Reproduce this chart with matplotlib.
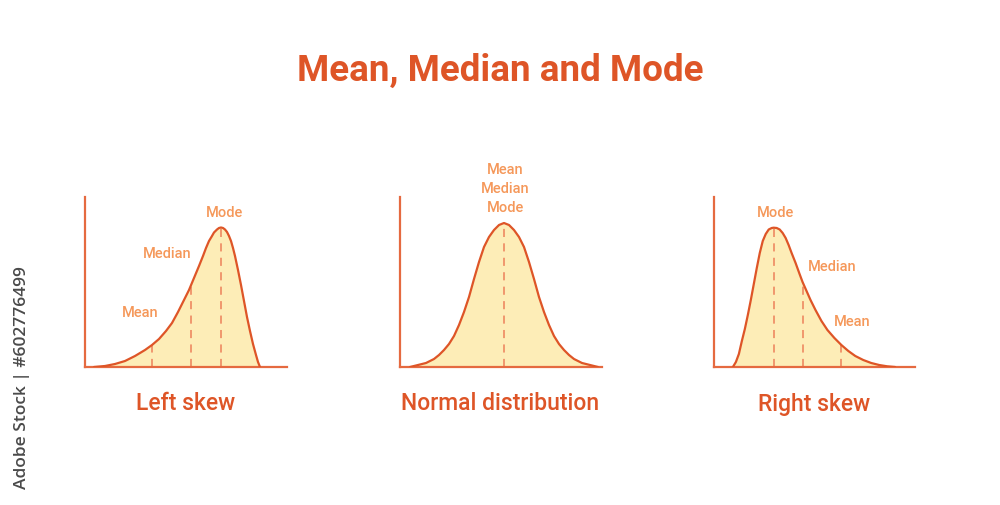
import matplotlib
matplotlib.use("Agg")
import matplotlib.pyplot as plt

# curve outlines (x along axis, height above axis)
left_x = [9, 20, 30, 40, 50, 60, 67, 74, 81, 87, 93, 99, 104, 109, 114, 118, 121, 124,
          127, 129, 132, 134, 136, 138, 140, 142, 144, 146, 148, 150, 153, 156, 159,
          162, 165, 168, 171, 173, 175]
left_h = [0, 1, 3, 6, 11, 17, 22, 28, 36, 44, 55, 67, 77, 89, 101, 111, 119, 126,
          131, 134.5, 137.5, 139, 139.5, 139, 137.5, 135, 131, 126, 119, 111, 97, 82, 66,
          50, 36, 23, 12, 5, 0]
left_marks = {"Mean": (67, 22), "Median": (106, 81), "Mode": (136, 139.5)}

normal_x = [10, 18, 26, 34, 39, 44, 49, 54, 59, 64, 69, 74, 79, 84, 89, 94, 99, 104,
            109, 114, 119, 124, 129, 134, 139, 144, 149, 154, 159, 164, 169, 174, 182, 190, 198]
normal_h = [0, 2, 4, 8, 12, 17, 23, 31, 42, 55, 70, 88, 105, 120, 130, 137, 142, 144,
            142, 137, 130, 120, 105, 88, 70, 55, 42, 31, 23, 17, 12, 8, 4, 2, 0]
normal_marks = {"Mode": (104, 144)}

right_x = [19, 22, 25, 28, 31, 34, 37, 40, 43, 46, 49, 52, 55, 58, 60, 63, 66, 69, 72,
           75, 78, 82, 86, 89, 93, 97, 102, 108, 114, 121, 128, 135, 142, 150, 158, 166,
           174, 182]
right_h = [0, 5, 13, 26, 38, 52, 67, 83, 99, 114, 126, 133, 137.5, 139, 139.3, 139, 137.5,
           134, 129, 122, 114, 104, 93, 85, 76, 67, 57, 46, 37, 29, 22, 16, 11, 7, 4, 2,
           0.7, 0]
right_marks = {"Mode": (60, 139.3), "Median": (89, 85), "Mean": (128, 22)}

TITLE = "Mean, Median and Mode"
SUBTITLES = ["Left skew", "Normal distribution", "Right skew"]

RED = "#DE5527"
AXIS = "#E56A40"
FILL = "#FDEDB7"
DASH = "#EF9068"
LABEL = "#F5985A"

plt.rcParams["font.family"] = ["Roboto", "DejaVu Sans"]

W, H = 1000, 505
fig = plt.figure(figsize=(W / 100, H / 100), dpi=100)
fig.patch.set_facecolor("white")


def px_axes(left, bottom, width, height):
    return fig.add_axes([left / W, 1 - bottom / H, width / W, height / H])


def draw_panel(ax, xs, hs, marks, labels):
    ax.set_xlim(0, 202)
    ax.set_ylim(0, 170)
    ax.fill_between(xs, hs, 0, color=FILL, lw=0, zorder=1)
    ax.plot(xs, hs, color=RED, lw=1.6, zorder=3, solid_joinstyle="round",
            solid_capstyle="round")
    for x, h in marks.values():
        ax.plot([x, x], [0, h], color=DASH, lw=1.3, ls=(0, (4.5, 3.5)), zorder=2)
    for text, (x, y) in labels.items():
        ax.text(x, y, text, color=LABEL, fontsize=10.5, fontweight="medium",
                ha="center", va="center", clip_on=False)
    for side in ("top", "right"):
        ax.spines[side].set_visible(False)
    for side in ("left", "bottom"):
        ax.spines[side].set_color(AXIS)
        ax.spines[side].set_linewidth(1.6)
    ax.set_xticks([])
    ax.set_yticks([])
    ax.patch.set_alpha(0)


ax1 = px_axes(85, 367, 202, 170)
draw_panel(ax1, left_x, left_h, left_marks,
           {"Mode": (139, 154), "Median": (82, 113), "Mean": (55, 54)})

ax2 = px_axes(400, 367, 202, 170)
draw_panel(ax2, normal_x, normal_h, normal_marks,
           {"Mean": (105, 197), "Median": (105, 178), "Mode": (105, 159)})

ax3 = px_axes(714, 367, 201, 170)
draw_panel(ax3, right_x, right_h, right_marks,
           {"Mode": (62, 154), "Median": (119, 100), "Mean": (139, 45)})

fig.text(0.5, 1 - 71 / H, TITLE, color=RED, fontsize=26.5, fontweight="bold",
         ha="center", va="center")

for cx, sub in zip([186, 500, 814], SUBTITLES):
    fig.text(cx / W, 1 - 404 / H, sub, color=RED, fontsize=16.5, fontweight="medium",
             ha="center", va="center")

fig.text(22 / W, 1 - 378 / H, "Adobe Stock | #602776499", color="#4A4A4A",
         fontsize=12.5, fontweight="semibold", rotation=90, ha="center", va="center",
         family=["Open Sans", "DejaVu Sans"])

fig.savefig("out.png", dpi=100)
